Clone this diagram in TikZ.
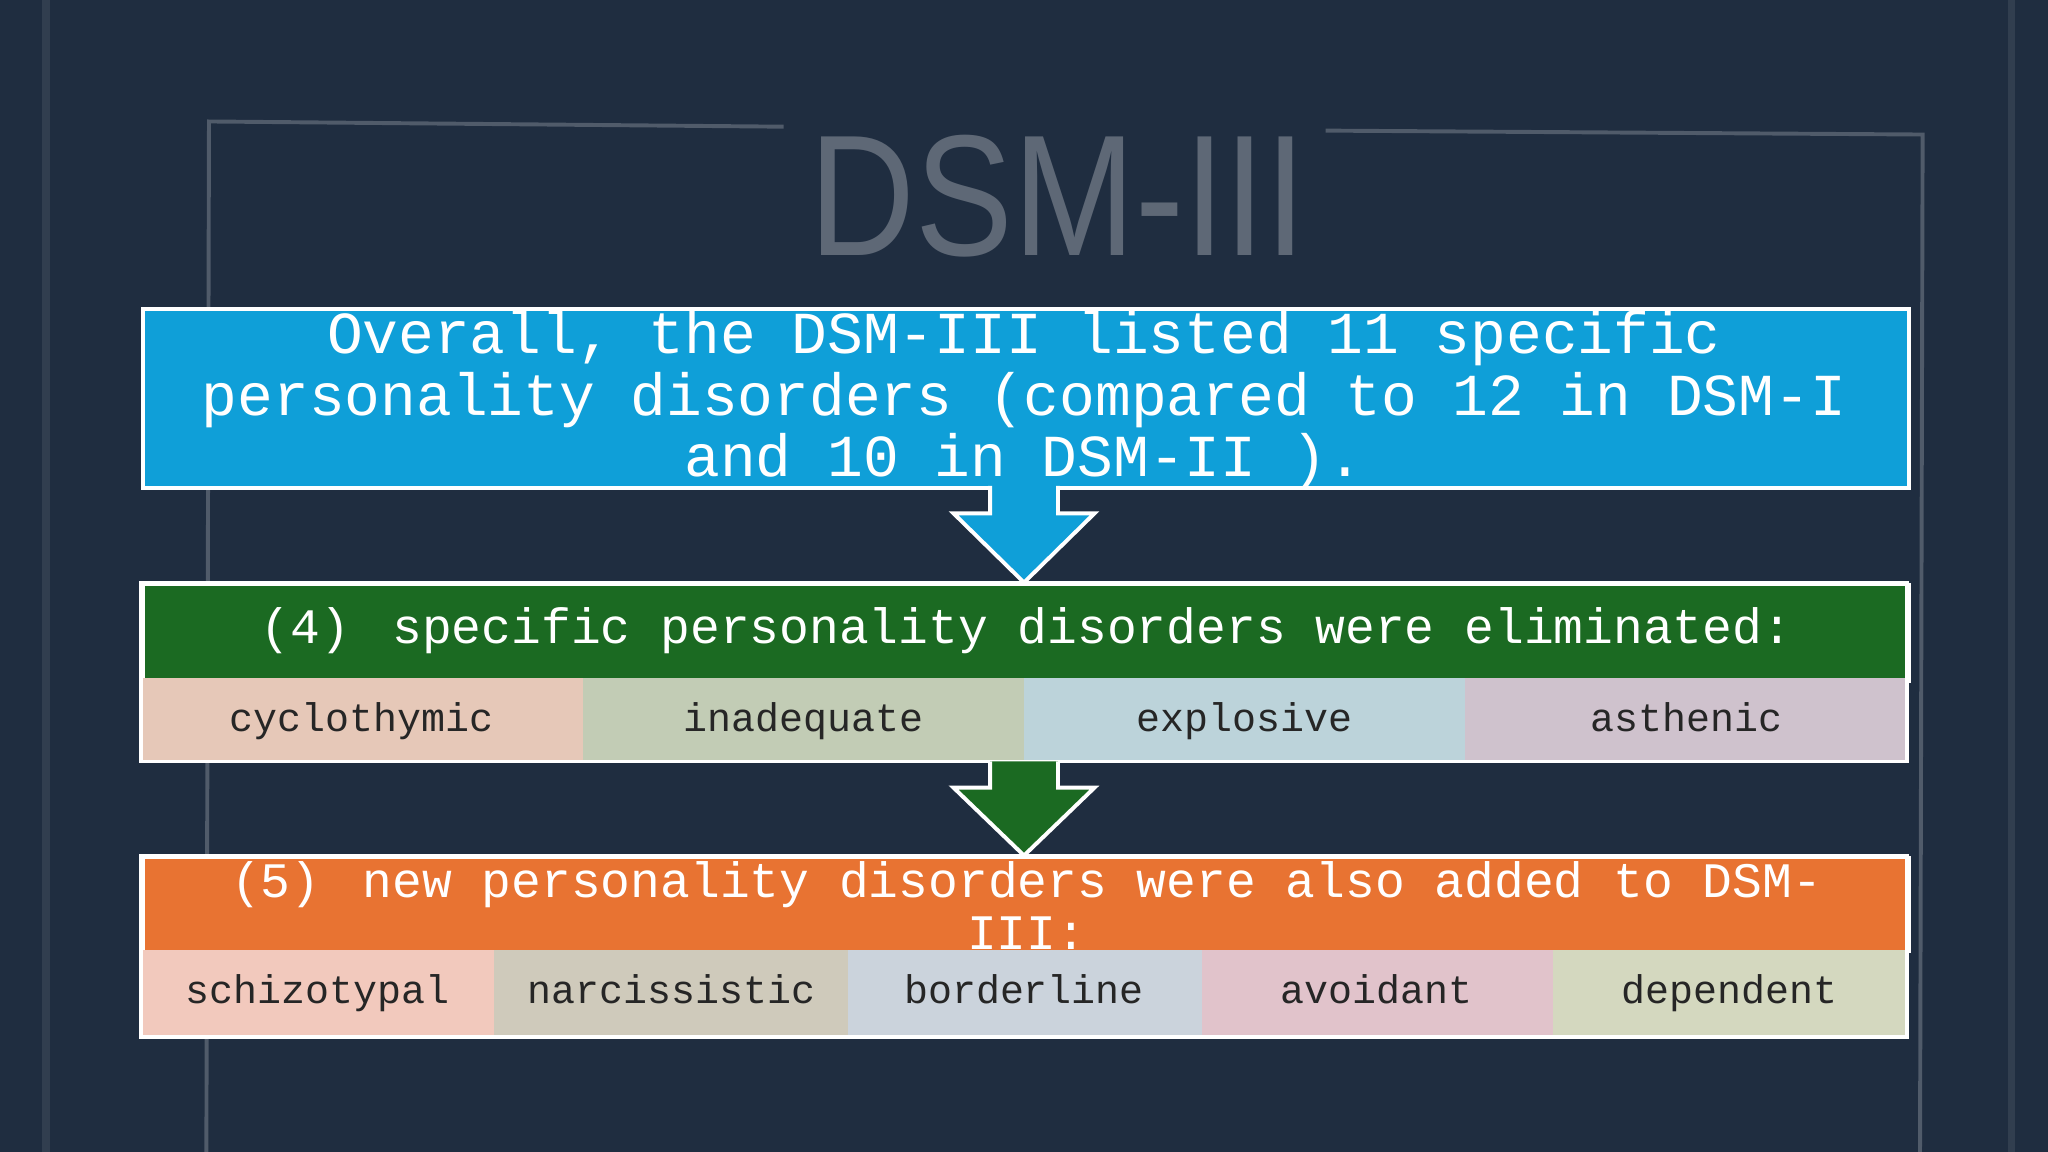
\documentclass[tikz,border=0pt]{standalone}
\usepackage{fontspec}
\setmainfont{Liberation Mono}
\newfontfamily\dsmfont{Liberation Sans}
\definecolor{bg}{HTML}{1F2D40}
\definecolor{topblue}{HTML}{0F9FD8}
\definecolor{hgreen}{HTML}{1B6A22}
\definecolor{horange}{HTML}{E87332}
\definecolor{ca}{HTML}{E6C8B8}
\definecolor{cb}{HTML}{C2CCB5}
\definecolor{cc}{HTML}{BCD3DA}
\definecolor{cd}{HTML}{CFC2CD}
\definecolor{ce}{HTML}{F2C9BD}
\definecolor{cf}{HTML}{CFCABB}
\definecolor{cg}{HTML}{CBD3DC}
\definecolor{ch}{HTML}{E1C3CB}
\definecolor{ci}{HTML}{D4D8BF}
\tikzset{
 hdr/.style={draw=white,line width=1.5pt},
 celltxt/.style={font=\fontsize{15.3}{17}\selectfont,text=black!85,anchor=base},
 arr/.style={draw=white,line width=1.5pt,line join=miter},
}
\begin{document}
\begin{tikzpicture}[x=0.5pt,y=-0.5pt]
\fill[bg] (0,0) rectangle (1568,882);
\useasboundingbox (0,0) rectangle (1568,882);
% faint cover details
\draw[white!22!bg,line width=1.5pt] (600,97) -- (160,93) -- (158,882);
\draw[white!22!bg,line width=1.5pt] (1015,100) -- (1472,103) -- (1470,882);
\draw[white!8!bg,line width=3pt] (35,0) -- (35,882);
\draw[white!8!bg,line width=3pt] (1540,0) -- (1540,882);
\node[text=white!28!bg,font=\dsmfont\fontsize{66}{66}\selectfont,xscale=0.85,inner sep=0pt] (dsm) at (810,150) {DSM-III};
% top box
\node[hdr,fill=topblue,minimum width=676pt,minimum height=68.5pt,anchor=north west,inner sep=0pt] (top) at (108,235) {};
\node[text=white,font=\fontsize{22.8}{23.5}\selectfont,align=center] (toptxt) at (784,306) {Overall, the DSM-III listed 11 specific\\personality disorders (compared to 12 in DSM-I\\and 10 in DSM-II ).};
% green header
\node[hdr,fill=hgreen,minimum width=676pt,minimum height=37pt,anchor=north west,inner sep=0pt] (gh) at (108,446) {};
\node[text=white,font=\fontsize{19}{20}\selectfont] (ghtxt) at (786,483) {(4)\hspace{0.85em}specific personality disorders were eliminated:};
% row 1
\fill[ca] (108,519) rectangle (446,583);
\fill[cb] (446,519) rectangle (784,583);
\fill[cc] (784,519) rectangle (1122,583);
\fill[cd] (1122,519) rectangle (1460,583);
\node[celltxt] (c1) at (277,560) {cyclothymic};
\node[celltxt] (c2) at (615,560) {inadequate};
\node[celltxt] (c3) at (953,560) {explosive};
\node[celltxt] (c4) at (1291,560) {asthenic};
\draw[white,line width=1.5pt] (108,446) rectangle (1460,583);
% orange header
\node[hdr,fill=horange,minimum width=676pt,minimum height=36pt,anchor=north west,inner sep=0pt] (oh) at (108,655) {};
\node[text=white,font=\fontsize{19}{20}\selectfont,align=center] (ohtxt) at (786,693) {(5)\hspace{0.85em}new personality disorders were also added to DSM-\\III:};
% row 2
\fill[ce] (108,727) rectangle (378,794);
\fill[cf] (378,727) rectangle (649,794);
\fill[cg] (649,727) rectangle (920,794);
\fill[ch] (920,727) rectangle (1189,794);
\fill[ci] (1189,727) rectangle (1460,794);
\node[celltxt] (d1) at (243,768) {schizotypal};
\node[celltxt] (d2) at (514,768) {narcissistic};
\node[celltxt] (d3) at (784,768) {borderline};
\node[celltxt] (d4) at (1054,768) {avoidant};
\node[celltxt] (d5) at (1324,768) {dependent};
\draw[white,line width=1.5pt] (108,655) rectangle (1460,794);
% arrows
\filldraw[arr,fill=topblue] (758,372) -- (758,393) -- (730,393) -- (784,446) -- (838,393) -- (810,393) -- (810,372);
\filldraw[arr,fill=hgreen] (758,583) -- (758,603) -- (730,603) -- (784,655) -- (838,603) -- (810,603) -- (810,583);
\end{tikzpicture}
\end{document}
